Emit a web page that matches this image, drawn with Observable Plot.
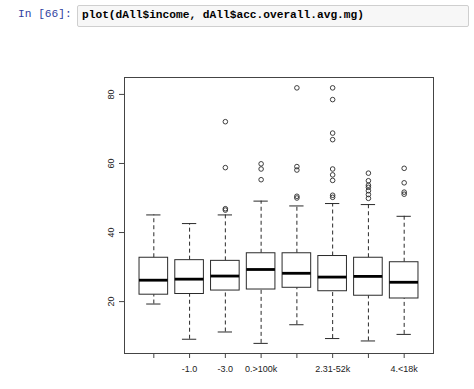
<!DOCTYPE html>
<html>
<head>
<meta charset="utf-8">
<script src="https://cdn.jsdelivr.net/npm/d3@7"></script>
<script src="https://cdn.jsdelivr.net/npm/@observablehq/plot@0.6"></script>
<style>
  body { margin: 0; background: #fff; width: 474px; height: 389px; overflow: hidden; }
  #hdr { position: relative; height: 40px; font-family: "Liberation Mono", "DejaVu Sans Mono", monospace; font-size: 11.2px; }
  #prompt { position: absolute; left: 18px; top: 8px; color: #303F9F; }
  #cell { position: absolute; left: 77px; top: 5px; width: 392px; height: 22px; border: 1px solid #cfcfcf; background: #f7f7f7; border-radius: 2px; box-sizing: border-box; }
  #code { position: absolute; left: 4px; top: 2.5px; color: #000; font-weight: bold; white-space: pre; }
  #chart svg { display: block; }
</style>
</head>
<body>
<div id="hdr">
  <div id="prompt">In [66]:</div>
  <div id="cell"><div id="code">plot(dAll$income, dAll$acc.overall.avg.mg)</div></div>
</div>
<div id="chart"></div>
<script>
// Income groups (hidden tick labels are blank, as in the reference)
const categories = ["", "-1.0", "-3.0", "0.>100k", "", "2.31-52k", "", "4.<18k"];
const whiskerLow  = [19.3,  9.1, 11.2,  7.9, 13.3,  9.3,  8.6, 10.5];
const q1          = [22.0, 22.2, 23.2, 23.5, 24.0, 23.0, 21.7, 20.9];
const median      = [26.2, 26.5, 27.4, 29.3, 28.2, 27.1, 27.3, 25.6];
const q3          = [32.7, 32.0, 31.8, 34.0, 34.0, 33.2, 32.7, 31.4];
const whiskerHigh = [45.1, 42.6, 45.1, 49.1, 47.7, 48.4, 48.1, 44.7];
const outliers = [
  [],
  [],
  [72.1, 58.8, 46.9, 46.5],
  [59.9, 58.4, 55.3],
  [81.9, 59.1, 58.1, 50.5, 50.0],
  [81.9, 78.5, 68.8, 66.9, 58.4, 56.7, 55.1, 50.8, 50.2],
  [57.2, 55.0, 53.7, 53.1, 52.1, 51.0, 49.9],
  [58.6, 54.4, 51.7, 51.1]
];
const yTicks = [20, 40, 60, 80];

const boxes = categories.map((c, k) => ({
  i: k + 1, lo: whiskerLow[k], q1: q1[k], med: median[k], q3: q3[k], hi: whiskerHigh[k]
}));
const outs = outliers.flatMap((arr, k) => arr.map(v => ({i: k + 1, v})));
const ink = "#2a2a2a";
const bw = 0.4, sw = 0.2;

const chart = Plot.plot({
  width: 474,
  height: 349,
  marginLeft: 124,
  marginRight: 41,
  marginTop: 37,
  marginBottom: 36,
  style: {fontFamily: "'Liberation Sans', Arial, sans-serif", fontSize: "9px", color: "#222", background: "#fff"},
  x: {domain: [0.18, 8.82]},
  y: {domain: [4.97, 84.9]},
  marks: [
    Plot.ruleX(boxes, {x: "i", y1: "q3", y2: "hi", stroke: ink, strokeDasharray: "4,3"}),
    Plot.ruleX(boxes, {x: "i", y1: "lo", y2: "q1", stroke: ink, strokeDasharray: "4,3"}),
    Plot.ruleY(boxes, {y: "hi", x1: d => d.i - sw, x2: d => d.i + sw, stroke: ink}),
    Plot.ruleY(boxes, {y: "lo", x1: d => d.i - sw, x2: d => d.i + sw, stroke: ink}),
    Plot.rect(boxes, {x1: d => d.i - bw, x2: d => d.i + bw, y1: "q1", y2: "q3", fill: "#fff", stroke: ink, insetLeft: 0, insetRight: 0}),
    Plot.ruleY(boxes, {y: "med", x1: d => d.i - bw, x2: d => d.i + bw, stroke: "#000", strokeWidth: 2.8}),
    Plot.dot(outs, {x: "i", y: "v", r: 2.3, stroke: ink, fill: "none", strokeWidth: 0.9}),
    Plot.frame({stroke: "#444"}),
    Plot.axisY({ticks: yTicks, tickSize: 5, tickPadding: 6, tickRotate: -90, label: null, stroke: "#444"}),
    Plot.axisX({ticks: boxes.map(d => d.i), tickFormat: i => categories[i - 1], tickSize: 5, tickPadding: 7, label: null, stroke: "#444"})
  ]
});
document.getElementById("chart").appendChild(chart);
</script>
</body>
</html>
